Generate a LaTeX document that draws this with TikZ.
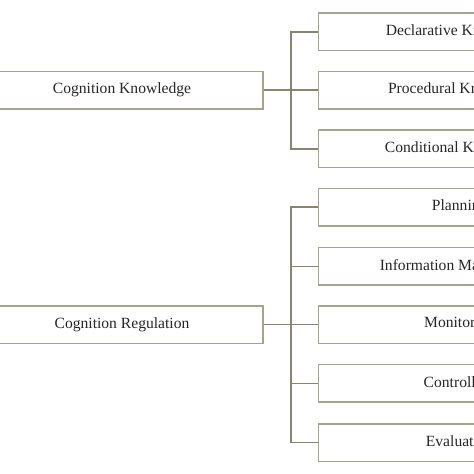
\documentclass[tikz,border=0pt]{standalone}
\usepackage{fontspec}
\setmainfont{Liberation Serif}
\definecolor{boxline}{HTML}{A4A48E}
\definecolor{conline}{HTML}{858570}
\begin{document}
\begin{tikzpicture}[x=1pt,y=-1pt,
  box/.style={draw=boxline,line width=1.5pt,rectangle,minimum width=282pt,minimum height=37.5pt,inner sep=0pt,font=\fontsize{15.6}{18}\selectfont,text=black!85},
  con/.style={draw=conline,line width=1.6pt}]
\useasboundingbox (0,0) rectangle (474,474);
\clip (0,0) rectangle (474,474);
\fill[white] (0,0) rectangle (474,474);
\node[box] (ck) at (122,90) {Cognition Knowledge};
\node[box] (cr) at (122,324.5) {Cognition Regulation};
\node[box] (dk) at (459.7,31.8) {Declarative Knowledge};
\node[box] (pk) at (459.7,90.2) {Procedural Knowledge};
\node[box] (ok) at (459.7,148.7) {Conditional Knowledge};
\node[box] (pl) at (459.7,207.2) {Planning};
\node[box] (im) at (459.7,266.3) {Information Management};
\node[box] (mo) at (459.7,324.5) {Monitoring};
\node[box] (co) at (459.7,383.3) {Controlling};
\node[box] (ev) at (459.7,442.5) {Evaluating};
\coordinate (bk) at (290.7,90);
\coordinate (br) at (290.7,324.5);
\draw[con] (ck.east) -- (bk);
\foreach \c in {dk,pk,ok} \draw[con] (bk) |- (\c.west);
\draw[con] (cr.east) -- (br);
\foreach \c in {pl,im,mo,co,ev} \draw[con] (br) |- (\c.west);
\end{tikzpicture}
\end{document}
